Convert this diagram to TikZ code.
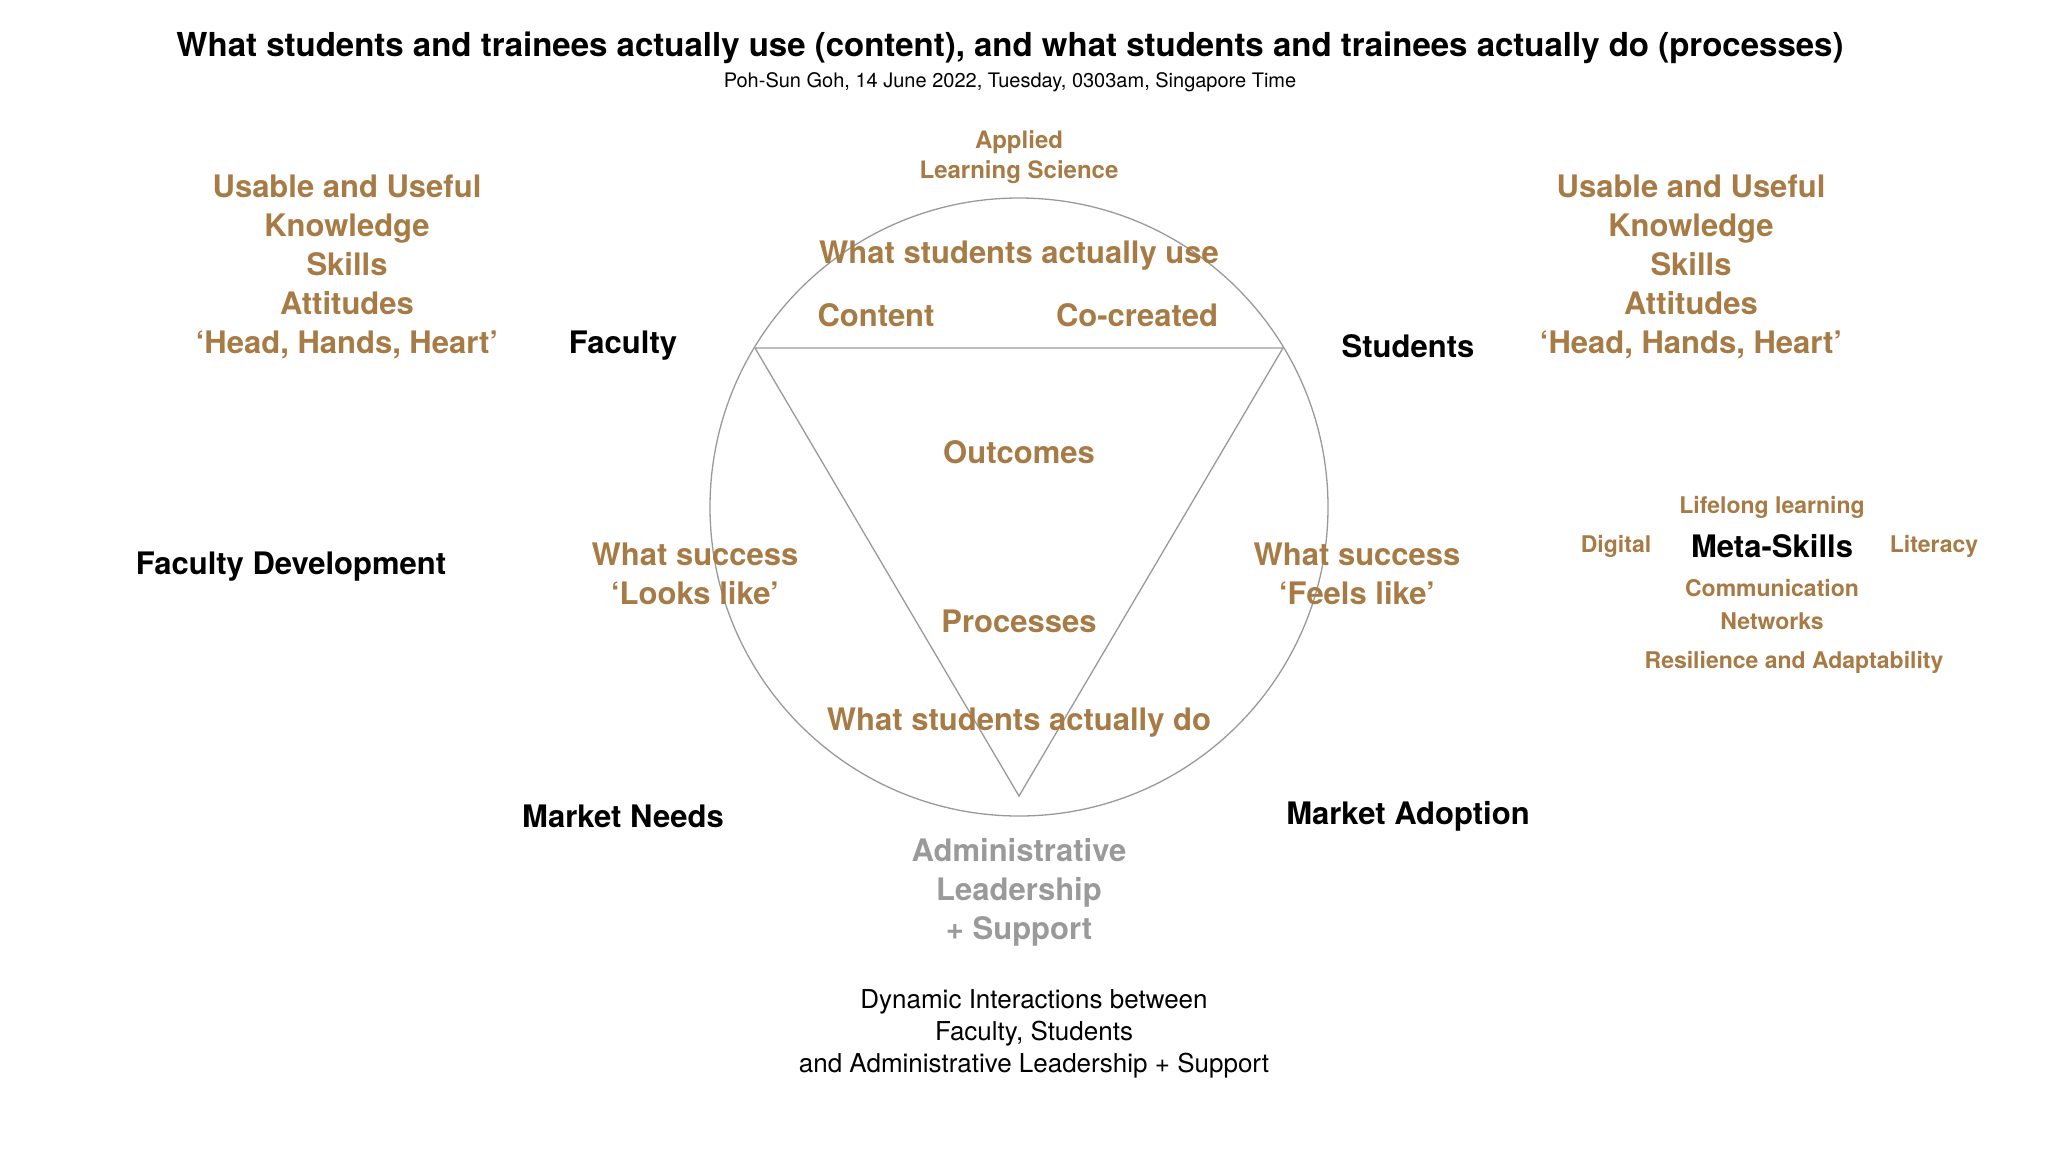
\documentclass[tikz,border=0pt]{standalone}
\usepackage{fontspec}
\setmainfont{TeX Gyre Heros}
\definecolor{gold}{HTML}{A77B46}
\definecolor{adm}{HTML}{9A9A9A}
\begin{document}
\begin{tikzpicture}[x=1pt,y=-1pt,
 big/.style={font=\fontsize{31}{39}\selectfont\bfseries,text=gold,align=center},
 blk/.style={font=\fontsize{31}{39}\selectfont\bfseries,text=black,align=center},
 sm/.style={font=\fontsize{23}{30}\selectfont\bfseries,text=gold,align=center},
 reg/.style={font=\fontsize{26}{32}\selectfont,align=center}]
\useasboundingbox (0,0) rectangle (2048,1152);
\node[font=\fontsize{33}{40}\selectfont\bfseries] (title) at (1010,48) {What students and trainees actually use (content), and what students and trainees actually do (processes)};
\node[font=\fontsize{20}{24}\selectfont] (sub) at (1010,82) {Poh-Sun Goh, 14 June 2022, Tuesday, 0303am, Singapore Time};
\node[draw=gray!80,line width=1.3pt,circle,minimum size=618pt,inner sep=0pt] (circ) at (1019,507) {};
\coordinate (A) at (755,348); \coordinate (B) at (1283,348); \coordinate (C) at (1019,796);
\draw[gray!80,line width=1.3pt] (A) -- (B) -- (C) -- cycle;
\node[sm,font=\fontsize{24}{30}\selectfont\bfseries] (als) at (1019,157) {Applied\\Learning Science};
\node[big] (use) at (1019,256) {What students actually use};
\node[big] (cont) at (876,315) {Content};
\node[big] (cocr) at (1137,315) {Co-created};
\node[blk] (fac) at (623,346) {Faculty};
\node[blk] (stu) at (1408,346) {Students};
\node[big] (lk) at (347,267) {Usable and Useful\\Knowledge\\Skills\\Attitudes\\‘Head, Hands, Heart’};
\node[big] (rk) at (1691,267) {Usable and Useful\\Knowledge\\Skills\\Attitudes\\‘Head, Hands, Heart’};
\node[big] (out) at (1019,452) {Outcomes};
\node[big] (proc) at (1019,621) {Processes};
\node[big] (look) at (695,574) {What success\\‘Looks like’};
\node[big] (feel) at (1357,574) {What success\\‘Feels like’};
\node[big] (do) at (1019,723) {What students actually do};
\node[blk] (fd) at (291,567) {Faculty Development};
\node[blk] (mn) at (623,816) {Market Needs};
\node[blk] (ma) at (1408,816) {Market Adoption};
\node[big,text=adm] (adm) at (1019,892) {Administrative\\Leadership\\+ Support};
\node[reg] (dyn) at (1034,1034) {Dynamic Interactions between\\Faculty, Students\\and Administrative Leadership + Support};
\node[sm] (ll) at (1772,507) {Lifelong learning};
\node[sm] (dig) at (1616,546) {Digital};
\node[blk] (ms) at (1772,546) {Meta-Skills};
\node[sm] (lit) at (1934,546) {Literacy};
\node[sm] (com) at (1772,588) {Communication};
\node[sm] (net) at (1772,621) {Networks};
\node[sm] (res) at (1794,662) {Resilience and Adaptability};
\end{tikzpicture}
\end{document}
